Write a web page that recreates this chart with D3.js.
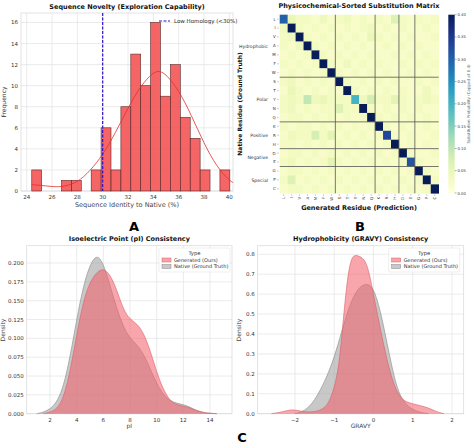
<!DOCTYPE html>
<html><head><meta charset="utf-8">
<script src="https://cdn.jsdelivr.net/npm/d3@7"></script>
<style>body{margin:0;background:#fff}svg{font-family:"DejaVu Sans",sans-serif}</style>
</head><body><svg id="c" width="474" height="448"></svg>
<script>
// ---- Panel A data ----
const histBins0 = 24.4, histBinW = 0.782;
const histCounts = [2,0,0,1,1,0,2,6,2,8,13,10,16,9,12,7,5,2,0,2];
const histKdeX = [24.4,25,26,26.5,27,28,29,30,31,32,33,34,34.5,35,36,37,38,39,40,40.3];
const histKdeY = [0.6,0.55,0.42,0.4,0.45,0.8,1.9,3.4,5.5,7.9,10,11.3,11.4,11.1,9.6,7.2,4.5,2.3,1.0,0.8];
const histTicksX = [24,26,28,30,32,34,36,38,40];
const histTicksY = [0,2,4,6,8,10,12,14,16];
// ---- Panel B data ----
const residues = ["L","I","V","A","M","F","W","S","T","Y","N","Q","K","R","H","D","E","G","P","C"];
const groups = [["Hydrophobic",0,7],["Polar",7,12],["Positive",12,15],["Negative",15,17],["Special",17,20]];
const matrix = [
[.30,.05,.03,.03,.02,.04,.02,.03,.04,.02,.03,.02,.03,.02,.07,.03,.02,.03,.02,.03],
[.04,.40,.03,.02,.03,.02,.03,.02,.03,.02,.03,.04,.02,.03,.02,.03,.02,.02,.03,.02],
[.03,.04,.40,.03,.02,.03,.02,.03,.02,.03,.02,.05,.03,.02,.03,.02,.03,.02,.02,.03],
[.03,.02,.04,.40,.03,.02,.03,.02,.03,.02,.03,.02,.02,.03,.02,.03,.02,.03,.02,.02],
[.02,.03,.02,.03,.40,.03,.02,.03,.02,.03,.02,.03,.02,.02,.03,.02,.03,.02,.03,.02],
[.03,.02,.03,.02,.03,.40,.03,.02,.04,.02,.03,.02,.03,.02,.02,.03,.02,.03,.02,.03],
[.02,.03,.02,.03,.02,.03,.40,.03,.02,.03,.02,.03,.02,.03,.02,.02,.03,.02,.03,.02],
[.03,.04,.02,.03,.02,.03,.02,.40,.03,.02,.03,.02,.03,.02,.03,.02,.02,.03,.02,.03],
[.02,.05,.03,.02,.03,.02,.03,.02,.40,.03,.02,.03,.02,.03,.02,.03,.02,.02,.04,.02],
[.03,.04,.03,.10,.04,.05,.03,.03,.03,.20,.04,.08,.03,.03,.06,.03,.02,.03,.04,.03],
[.03,.04,.02,.03,.02,.03,.03,.07,.03,.03,.40,.03,.02,.03,.02,.03,.02,.03,.02,.02],
[.02,.03,.03,.02,.03,.02,.03,.02,.03,.02,.03,.40,.03,.02,.03,.02,.03,.02,.03,.02],
[.03,.02,.03,.03,.02,.03,.02,.03,.02,.03,.02,.03,.40,.03,.02,.03,.02,.02,.03,.02],
[.02,.04,.03,.03,.08,.03,.06,.02,.03,.02,.03,.02,.03,.33,.03,.02,.03,.02,.02,.03],
[.03,.03,.02,.03,.02,.03,.02,.03,.02,.03,.02,.03,.02,.03,.40,.02,.03,.02,.03,.02],
[.02,.03,.03,.02,.03,.02,.03,.02,.03,.02,.03,.02,.03,.02,.03,.40,.03,.02,.02,.03],
[.03,.04,.02,.03,.02,.03,.06,.03,.02,.03,.02,.03,.02,.03,.02,.03,.31,.03,.02,.02],
[.02,.03,.03,.02,.03,.02,.03,.02,.03,.02,.03,.02,.03,.02,.03,.02,.03,.40,.03,.02],
[.03,.07,.02,.03,.02,.03,.02,.03,.02,.03,.02,.03,.02,.03,.02,.03,.02,.03,.40,.03],
[.02,.03,.03,.02,.03,.02,.03,.02,.03,.02,.03,.02,.03,.02,.03,.02,.03,.02,.03,.40]];
const cbTicks = [0,0.05,0.10,0.15,0.20,0.25,0.30,0.35,0.40];
// ---- Panel C data ----
const piNatX = [1,1.5,2,2.5,3,3.5,4,4.5,5,5.5,6,6.5,7,7.5,8,8.5,9,9.5,10,10.5,11,11.5,12,12.5,13,13.5,14,14.5];
const piNatY = [0,.002,.006,.015,.035,.075,.125,.17,.198,.212,.2,.17,.14,.115,.1,.092,.08,.06,.04,.025,.017,.014,.012,.009,.004,.0015,.0005,0];
const piGenX = [1.5,2,2.5,3,3.5,4,4.5,5,5.5,6,6.5,7,7.5,8,8.5,9,9.5,10,10.5,11,11.5,12,12.5,13,13.5,14,14.5];
const piGenY = [0,.002,.006,.02,.055,.105,.15,.175,.188,.193,.185,.165,.138,.125,.12,.108,.085,.055,.032,.017,.012,.01,.008,.004,.0015,.0005,0];
const piTicksX = [2,4,6,8,10,12,14];
const piTicksY = [0,0.025,0.05,0.075,0.1,0.125,0.15,0.175,0.2];
const gvNatX = [-2,-1.8,-1.6,-1.4,-1.2,-1,-0.8,-0.6,-0.4,-0.2,0,0.2,0.4,0.6,0.8,1,1.2,1.4];
const gvNatY = [0,.01,.04,.1,.18,.28,.42,.55,.63,.655,.64,.5,.3,.12,.05,.02,.005,0];
const gvGenX = [-2.6,-2.3,-2.1,-1.9,-1.7,-1.5,-1.3,-1.1,-0.9,-0.8,-0.7,-0.6,-0.5,-0.35,-0.2,-0.1,0,0.2,0.4,0.6,0.8,1,1.2,1.4,1.6,1.8];
const gvGenY = [0,.01,.022,.015,.008,.01,.02,.06,.2,.4,.62,.76,.8,.79,.77,.7,.6,.4,.22,.1,.06,.05,.04,.03,.01,0];
const gvTicksX = [-2,-1,0,1,2];
const gvTicksY = [0,0.1,0.2,0.3,0.4,0.5,0.6,0.7,0.8];

const svg = d3.select("#c");
const TXT = "#333", GRID = "#e3e3e3";
function txt(g,x,y,s,o={}){const t=g.append("text").attr("x",x).attr("y",y).text(s)
 .attr("font-size",o.fs||6).attr("fill",o.fill||TXT).attr("text-anchor",o.anchor||"middle");
 if(o.bold)t.attr("font-weight","bold"); if(o.rot!=null)t.attr("transform",`rotate(${o.rot},${x},${y})`);
 return t;}
function frame(x,y,L,R,T,B,tx,ty,fmtY){
 const g=svg.append("g");
 g.append("rect").attr("x",L).attr("y",T).attr("width",R-L).attr("height",B-T).attr("fill","#fff");
 tx.forEach(v=>{g.append("line").attr("x1",x(v)).attr("x2",x(v)).attr("y1",T).attr("y2",B).attr("stroke",GRID).attr("stroke-width",0.7);
   txt(g,x(v),B+8,v<0?"\u2212"+(-v):v,{fs:5.5});});
 ty.forEach(v=>{g.append("line").attr("x1",L).attr("x2",R).attr("y1",y(v)).attr("y2",y(v)).attr("stroke",GRID).attr("stroke-width",0.7);
   txt(g,L-3,y(v)+2,fmtY(v),{fs:5.5,anchor:"end"});});
 g.append("rect").attr("x",L).attr("y",T).attr("width",R-L).attr("height",B-T).attr("fill","none").attr("stroke","#d8d8d8").attr("stroke-width",0.7);
 return g;}

// ---- Panel A ----
{const L=21,R=233,T=13,B=191;
 const x=d3.scaleLinear().domain([23.55,40.29]).range([L,R]);
 const y=d3.scaleLinear().domain([0,16.9]).range([B,T]);
 const g=frame(x,y,L,R,T,B,histTicksX,histTicksY,d=>d);
 histCounts.forEach((c,i)=>{if(!c)return;const a=histBins0+i*histBinW;
  g.append("rect").attr("x",x(a)).attr("width",x(a+histBinW)-x(a)).attr("y",y(c)).attr("height",y(0)-y(c))
   .attr("fill","#f44a4a").attr("fill-opacity",0.85).attr("stroke","#5a2a2a").attr("stroke-width",0.6);});
 g.append("path").attr("d",d3.line().curve(d3.curveBasis).x(d=>x(d)).y((d,i)=>y(histKdeY[i]))(histKdeX))
  .attr("fill","none").attr("stroke","#e03030").attr("stroke-width",0.8);
 g.append("line").attr("x1",x(30)).attr("x2",x(30)).attr("y1",T).attr("y2",B).attr("stroke","#2a14c8").attr("stroke-width",1.2).attr("stroke-dasharray","3,1.5");
 g.append("line").attr("x1",159).attr("x2",170).attr("y1",21).attr("y2",21).attr("stroke","#2a14c8").attr("stroke-width",1.2).attr("stroke-dasharray","3,1.5");
 txt(g,174,23,"Low Homology (<30%)",{fs:5.5,anchor:"start"});
 txt(g,127,9,"Sequence Novelty (Exploration Capability)",{fs:6.5,bold:true,fill:"#111"});
 txt(g,127,207,"Sequence Identity to Native (%)",{fs:6.5,fill:"#444"});
 txt(g,6,102,"Frequency",{fs:6,rot:-90});
 txt(g,134,231,"A",{fs:13,bold:true,fill:"#000"});}

// ---- Panel B ----
{const L=279.7,R=438.7,T=14.7,B=193.3;
 const x=d3.scaleBand().domain(residues).range([L,R]);
 const y=d3.scaleBand().domain(residues).range([T,B]);
 const col=v=>d3.interpolateYlGnBu(Math.min(v,0.4)/0.4);
 const g=svg.append("g");
 matrix.forEach((row,i)=>row.forEach((v,j)=>{
  g.append("rect").attr("x",x(residues[j])).attr("y",y(residues[i])).attr("width",x.bandwidth()+0.3).attr("height",y.bandwidth()+0.3).attr("fill",col(v));}));
 groups.slice(0,-1).forEach(([n,a,b])=>{
  g.append("line").attr("x1",x(residues[b])).attr("x2",x(residues[b])).attr("y1",T).attr("y2",B).attr("stroke","#555").attr("stroke-width",0.8);
  g.append("line").attr("y1",y(residues[b])).attr("y2",y(residues[b])).attr("x1",L).attr("x2",R).attr("stroke","#555").attr("stroke-width",0.8);});
 residues.forEach(r=>{const cy=y(r)+y.bandwidth()/2,cx=x(r)+x.bandwidth()/2;
  txt(g,L-4,cy+1.4,r,{fs:4,anchor:"end"});
  g.append("line").attr("x1",L-2.5).attr("x2",L-1).attr("y1",cy).attr("y2",cy).attr("stroke","#666").attr("stroke-width",0.4);
  g.append("line").attr("y1",B+1).attr("y2",B+2.5).attr("x1",cx).attr("x2",cx).attr("stroke","#666").attr("stroke-width",0.4);
  txt(g,cx+1.4,B+3.5,r,{fs:4,anchor:"end",rot:-90});});
 groups.forEach(([n,a,b])=>{const yy=(y(residues[a])+y(residues[b-1])+y.bandwidth())/2;txt(g,268,yy+1.8,n,{fs:4.6,anchor:"end"});});
 txt(g,242,104,"Native Residue (Ground Truth)",{fs:6,bold:true,rot:-90,fill:"#111"});
 txt(g,359,210,"Generated Residue (Prediction)",{fs:6.5,bold:true,fill:"#111"});
 txt(g,359,8,"Physicochemical-Sorted Substitution Matrix",{fs:6.5,bold:true,fill:"#111"});
 txt(g,360,231,"B",{fs:13,bold:true,fill:"#000"});
 const cy=d3.scaleLinear().domain([0,0.4]).range([193,14.7]);
 const lg=svg.append("defs").append("linearGradient").attr("id","cb").attr("x1",0).attr("x2",0).attr("y1",1).attr("y2",0);
 d3.range(0,1.01,0.1).forEach(t=>lg.append("stop").attr("offset",t).attr("stop-color",d3.interpolateYlGnBu(t)));
 g.append("rect").attr("x",448.3).attr("y",14.7).attr("width",6.4).attr("height",178.3).attr("fill","url(#cb)");
 cbTicks.forEach(v=>{g.append("line").attr("x1",454.7).attr("x2",456.5).attr("y1",cy(v)).attr("y2",cy(v)).attr("stroke","#555").attr("stroke-width",0.5);
  txt(g,457.5,cy(v)+1.5,v.toFixed(2),{fs:3.8,anchor:"start"});});
 txt(g,470,104,"Substitution Probability (Capped at 0.4)",{fs:4,rot:-90,fill:"#666"});}

// ---- Panel C ----
function density(L,R,xd,yd,tx,ty,fy,natX,natY,genX,genY,title,xl,lgX,ylx){
 const T=245.7,B=413.7;
 const x=d3.scaleLinear().domain(xd).range([L,R]);
 const y=d3.scaleLinear().domain(yd).range([B,T]);
 const g=frame(x,y,L,R,T,B,tx,ty,fy);
 const area=(X,Y)=>d3.area().curve(d3.curveBasis).x(d=>x(d)).y0(B).y1((d,i)=>y(Y[i]))(X);
 const line=(X,Y)=>d3.line().curve(d3.curveBasis).x(d=>x(d)).y((d,i)=>y(Y[i]))(X);
 g.append("path").attr("d",area(natX,natY)).attr("fill","#9a9a9a").attr("fill-opacity",0.55);
 g.append("path").attr("d",line(natX,natY)).attr("fill","none").attr("stroke","#888").attr("stroke-width",0.6);
 g.append("path").attr("d",area(genX,genY)).attr("fill","#f25c66").attr("fill-opacity",0.55);
 g.append("path").attr("d",line(genX,genY)).attr("fill","none").attr("stroke","#d9606a").attr("stroke-width",0.6);
 txt(g,(L+R)/2,241,title,{fs:6.5,bold:true,fill:"#111"});
 txt(g,(L+R)/2,428,xl,{fs:6,fill:"#444"});
 txt(g,ylx,330,"Density",{fs:6,rot:-90,fill:"#444"});
 const lg=g.append("g");
 lg.append("rect").attr("x",lgX).attr("y",248).attr("width",71).attr("height",24).attr("fill","#fff").attr("fill-opacity",0.85).attr("stroke","#ddd").attr("stroke-width",0.5).attr("rx",1.5);
 txt(lg,lgX+35.5,255,"Type",{fs:5.3});
 [["Generated (Ours)","#f7a3a8","#d9606a"],["Native (Ground Truth)","#c8c8c8","#888"]].forEach(([n,f,s],i)=>{
  lg.append("rect").attr("x",lgX+3).attr("y",258+i*6.5).attr("width",9).attr("height",4).attr("fill",f).attr("stroke",s).attr("stroke-width",0.5);
  txt(lg,lgX+15,261.7+i*6.5,n,{fs:5,anchor:"start"});});}
density(26.7,232,[0.25,15.65],[0,0.223],piTicksX,piTicksY,d=>d.toFixed(3),piNatX,piNatY,piGenX,piGenY,"Isoelectric Point (pI) Consistency","pI",159,5);
density(257.7,463.7,[-2.95,2.3],[0,0.843],gvTicksX,gvTicksY,d=>d.toFixed(1),gvNatX,gvNatY,gvGenX,gvGenY,"Hydrophobicity (GRAVY) Consistency","GRAVY",388.7,241);
txt(svg,242,442,"C",{fs:13,bold:true,fill:"#000"});
</script></body></html>
